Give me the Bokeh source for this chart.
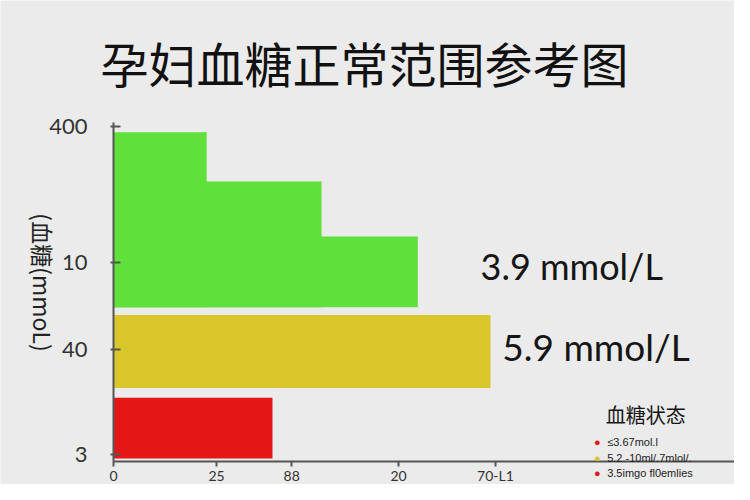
import math
from bokeh.plotting import figure
from bokeh.models import Range1d, FixedTicker, Label
from bokeh.embed import file_html
from bokeh.resources import INLINE

# ---- data ----
title_text = "孕妇血糖正常范围参考图"
y_axis_title = "(血糖(mmoL)"

green_right = [15.0, 33.5, 49.0]
green_top = [97.1, 82.6, 66.4]
green_bottom = [45.5, 45.5, 45.5]

yellow_right = [60.7]
yellow_top = [43.2]
yellow_bottom = [21.7]

red_right = [25.6]
red_top = [18.8]
red_bottom = [0.9]

y_tick_pos = [98.8, 58.6, 33.0, 2.0]
y_tick_labels = ["400", "10", "40", "3"]
x_tick_pos = [0, 16.6, 28.7, 45.9, 61.5]
x_tick_labels = ["0", "25", "88", "20", "70-L1"]

value_labels = ["3.9 mmol/L", "5.9  mmol/L"]
legend_title = "血糖状态"
legend_items = ["≤3.67mol.l", "5.2.-10ml/.7mlol/.", "3.5imgo fl0emlies"]
legend_colors = ["#e31b1b", "#d6c42a", "#e31b1b"]

BG = "#ebebeb"
GREEN = "#5fe03a"
YELLOW = "#d8c62a"
RED = "#e51616"

p = figure(width=734, height=484, output_backend="svg", toolbar_location=None,
           x_range=Range1d(-18.2, 100), y_range=Range1d(-6.78, 136.0),
           min_border_left=0, min_border_top=0, min_border_right=0,
           min_border_bottom=0)
p.background_fill_color = BG
p.border_fill_color = BG
p.outline_line_color = None
p.grid.visible = False

p.quad(left=0, right=green_right, top=green_top, bottom=green_bottom,
       fill_color=GREEN, line_color=None)
p.quad(left=0, right=yellow_right, top=yellow_top, bottom=yellow_bottom,
       fill_color=YELLOW, line_color=None)
p.quad(left=0, right=red_right, top=red_top, bottom=red_bottom,
       fill_color=RED, line_color=None)

# axes (drawn at the data origin inside the plotting area)
for ax in (p.xaxis, p.yaxis):
    ax.fixed_location = 0
    ax.axis_line_color = "#555555"
    ax.axis_line_width = 2
    ax.major_tick_line_color = "#555555"
    ax.major_tick_line_width = 2
    ax.minor_tick_line_color = None
    ax.major_label_text_color = "#333333"
    ax.major_label_text_font = "Lato"

p.yaxis.bounds = (0, 100)
p.yaxis.ticker = FixedTicker(ticks=y_tick_pos)
p.yaxis.major_label_overrides = {t: l for t, l in zip(y_tick_pos, y_tick_labels)}
p.yaxis.major_label_text_font_size = "22px"
p.yaxis.major_tick_in = 7
p.yaxis.major_tick_out = 3
p.yaxis.major_label_standoff = 23

p.xaxis.bounds = (0, 100)
p.xaxis.ticker = FixedTicker(ticks=x_tick_pos)
p.xaxis.major_label_overrides = {t: l for t, l in zip(x_tick_pos, x_tick_labels)}
p.xaxis.major_label_text_font_size = "14px"
p.xaxis.major_tick_in = 0
p.xaxis.major_tick_out = 5
p.xaxis.major_label_standoff = 0

# y-axis title, reading top to bottom
p.add_layout(Label(x=-11.4, y=52.8, text=y_axis_title, angle=-math.pi / 2,
                   text_font="Noto Sans CJK SC", text_font_size="23px",
                   text_align="center", text_baseline="middle", text_color="#222222"))

# title
p.add_layout(Label(x=40.4, y=118.0, text=title_text, text_font="Noto Sans CJK SC",
                   text_font_size="48px", text_align="center", text_baseline="middle",
                   text_color="#111111"))

# value labels
p.add_layout(Label(x=59.1, y=57.7, text=value_labels[0], text_font="Lato",
                   text_font_size="36px", text_baseline="middle", text_color="#151515"))
p.add_layout(Label(x=62.6, y=33.9, text=value_labels[1], text_font="Lato",
                   text_font_size="37px", text_baseline="middle", text_color="#151515"))

# legend-like block
p.add_layout(Label(x=85.7, y=13.9, text=legend_title, text_font="Noto Sans CJK SC",
                   text_font_size="20px", text_align="center", text_baseline="middle",
                   text_color="#151515"))
legend_y = [5.8, 0.9, -3.5]
for yy, txt, col in zip(legend_y, legend_items, legend_colors):
    p.add_layout(Label(x=77.9, y=yy, text="●", text_font_size="11px", text_align="center",
                       text_baseline="middle", text_color=col))
    p.add_layout(Label(x=79.5, y=yy, text=txt, text_font="Liberation Sans",
                       text_font_size="11px", text_baseline="middle", text_color="#222222"))

open("out.html", "w").write(file_html(p, INLINE))
